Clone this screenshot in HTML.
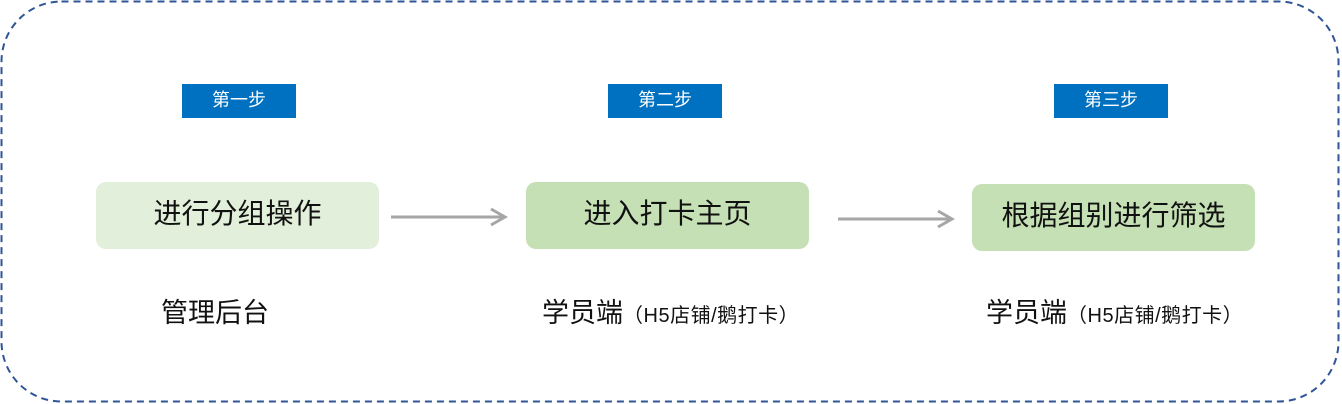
<!DOCTYPE html>
<html><head><meta charset="utf-8"><style>
html,body{margin:0;padding:0;background:#fff;}
body{width:1342px;height:404px;position:relative;overflow:hidden;font-family:"Liberation Sans","Noto Sans CJK SC",sans-serif;color:#111;}
.step{position:absolute;top:84px;width:114px;height:34px;background:#0070c0;color:#fff;font-size:18px;line-height:33px;text-align:center;}
.node{position:absolute;width:283px;height:67px;border-radius:10px;font-size:28px;line-height:64px;text-align:center;}
.lab{position:absolute;top:295px;font-size:27px;line-height:36px;white-space:nowrap;}
.lab small{font-size:20px;letter-spacing:0.5px;}
</style></head><body>
<svg style="position:absolute;left:0;top:0" width="1342" height="404">
<rect x="1.5" y="1.5" width="1337" height="400" rx="60" ry="60" fill="none" stroke="#2f5597" stroke-width="2" stroke-dasharray="7,5"/>
<g stroke="#a6a6a6" stroke-width="3" fill="none">
<line x1="391" y1="217" x2="505" y2="217"/><polyline points="491,209 505,217 491,225"/>
<line x1="838" y1="219" x2="952" y2="219"/><polyline points="938,211 952,219 938,227"/>
</g></svg>
<div class="step" style="left:182px">第一步</div>
<div class="step" style="left:608px">第二步</div>
<div class="step" style="left:1054px">第三步</div>
<div class="node" style="left:96px;top:182px;background:#e2efda">进行分组操作</div>
<div class="node" style="left:526px;top:182px;background:#c5e0b4">进入打卡主页</div>
<div class="node" style="left:972px;top:184px;background:#c5e0b4">根据组别进行筛选</div>
<div class="lab" style="left:161px">管理后台</div>
<div class="lab" style="left:542px">学员端<small>（H5店铺/鹅打卡）</small></div>
<div class="lab" style="left:986px">学员端<small>（H5店铺/鹅打卡）</small></div>
</body></html>
